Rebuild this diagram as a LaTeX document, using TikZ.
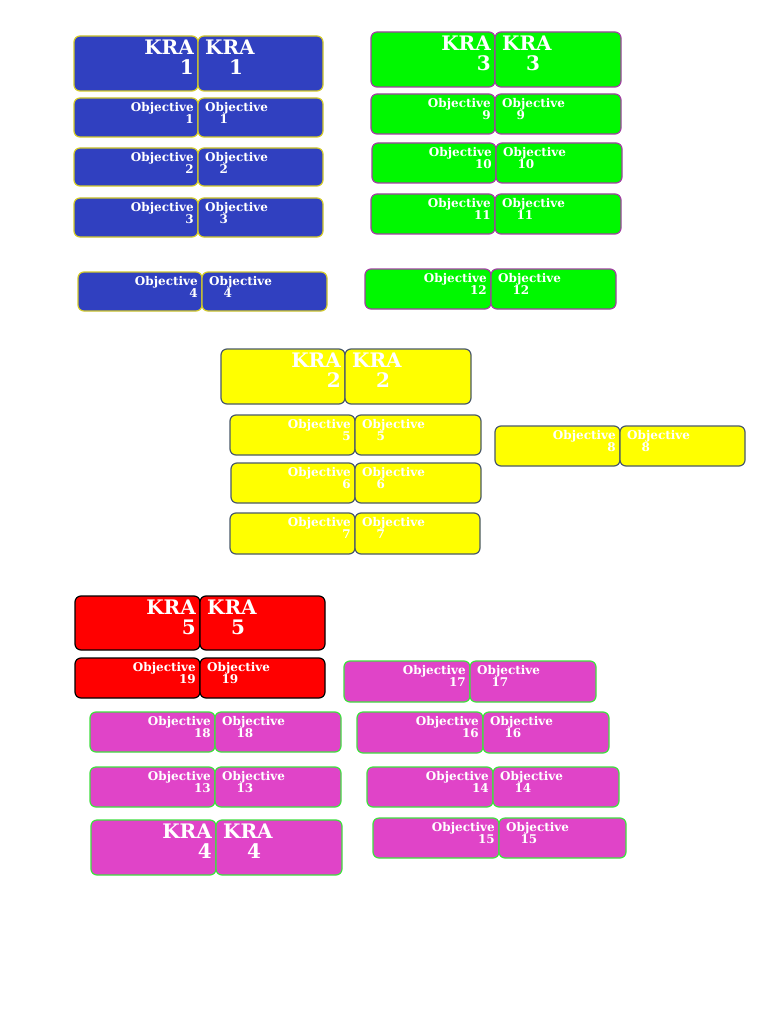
\documentclass[tikz,border=0pt]{standalone}
\usepackage{fontspec}
\setmainfont{DejaVu Serif}
\definecolor{kblue}{HTML}{3040C0}
\definecolor{kgreen}{HTML}{00F800}
\definecolor{kpurple}{HTML}{A040A0}
\definecolor{kyellow}{HTML}{FFFF00}
\definecolor{kslate}{HTML}{4A5A6A}
\definecolor{kred}{HTML}{FF0000}
\definecolor{kmag}{HTML}{E044C8}
\definecolor{klime}{HTML}{40E040}
\tikzset{
 bluebox/.style={fill=kblue,draw=yellow!80!black},
 greenbox/.style={fill=kgreen,draw=kpurple},
 yelbox/.style={fill=kyellow,draw=kslate},
 redbox/.style={fill=kred,draw=black},
 magbox/.style={fill=kmag,draw=klime},
 ltxt/.style={anchor=north east,align=right,text=white,font=\bfseries\fontsize{#1}{#1}\selectfont,inner sep=0pt},
 rtxt/.style={anchor=north west,align=left,text=white,font=\bfseries\fontsize{#1}{#1}\selectfont,inner sep=0pt},
}
% \pr{name}{x0}{xm}{x1}{y0}{y1}{style}{word}{num}{size}
\newcommand{\pr}[9]{%
 \draw[#7,rounded corners=6pt,line width=1.2pt] (#2,#5) rectangle (#3,#6);
 \draw[#7,rounded corners=6pt,line width=1.2pt] (#3,#5) rectangle (#4,#6);
 \node[ltxt=\fsz] (#1l) at ({#3-4},{#5+4}) {#8\\#9};
 \node[rtxt=\fsz] (#1r) at ({#3+7},{#5+4}) {#8\\\hspace*{1.2em}#9};
}
\begin{document}
\begin{tikzpicture}[x=1pt,y=-1pt]
\useasboundingbox (0,0) rectangle (768,1024);
\fill[white] (0,0) rectangle (768,1024);
\def\fsz{20}
\pr{k1}{74}{198}{323}{36}{91}{bluebox}{KRA}{1}
\pr{k3}{371}{495}{621}{32}{87}{greenbox}{KRA}{3}
\pr{k2}{221}{345}{471}{349}{404}{yelbox}{KRA}{2}
\pr{k5}{75}{200}{325}{596}{650}{redbox}{KRA}{5}
\pr{k4}{91}{216}{342}{820}{875}{magbox}{KRA}{4}
\def\fsz{12}
\pr{o1}{74}{198}{323}{98}{137}{bluebox}{Objective}{1}
\pr{o2}{74}{198}{323}{148}{186}{bluebox}{Objective}{2}
\pr{o3}{74}{198}{323}{198}{237}{bluebox}{Objective}{3}
\pr{o4}{78}{202}{327}{272}{311}{bluebox}{Objective}{4}
\pr{o9}{371}{495}{621}{94}{134}{greenbox}{Objective}{9}
\pr{o10}{372}{496}{622}{143}{183}{greenbox}{Objective}{10}
\pr{o11}{371}{495}{621}{194}{234}{greenbox}{Objective}{11}
\pr{o12}{365}{491}{616}{269}{309}{greenbox}{Objective}{12}
\pr{o5}{230}{355}{481}{415}{455}{yelbox}{Objective}{5}
\pr{o6}{231}{355}{481}{463}{503}{yelbox}{Objective}{6}
\pr{o7}{230}{355}{480}{513}{554}{yelbox}{Objective}{7}
\pr{o8}{495}{620}{745}{426}{466}{yelbox}{Objective}{8}
\pr{o19}{75}{200}{325}{658}{698}{redbox}{Objective}{19}
\pr{o17}{344}{470}{596}{661}{702}{magbox}{Objective}{17}
\pr{o18}{90}{215}{341}{712}{752}{magbox}{Objective}{18}
\pr{o16}{357}{483}{609}{712}{753}{magbox}{Objective}{16}
\pr{o13}{90}{215}{341}{767}{807}{magbox}{Objective}{13}
\pr{o14}{367}{493}{619}{767}{807}{magbox}{Objective}{14}
\pr{o15}{373}{499}{626}{818}{858}{magbox}{Objective}{15}
\end{tikzpicture}
\end{document}
